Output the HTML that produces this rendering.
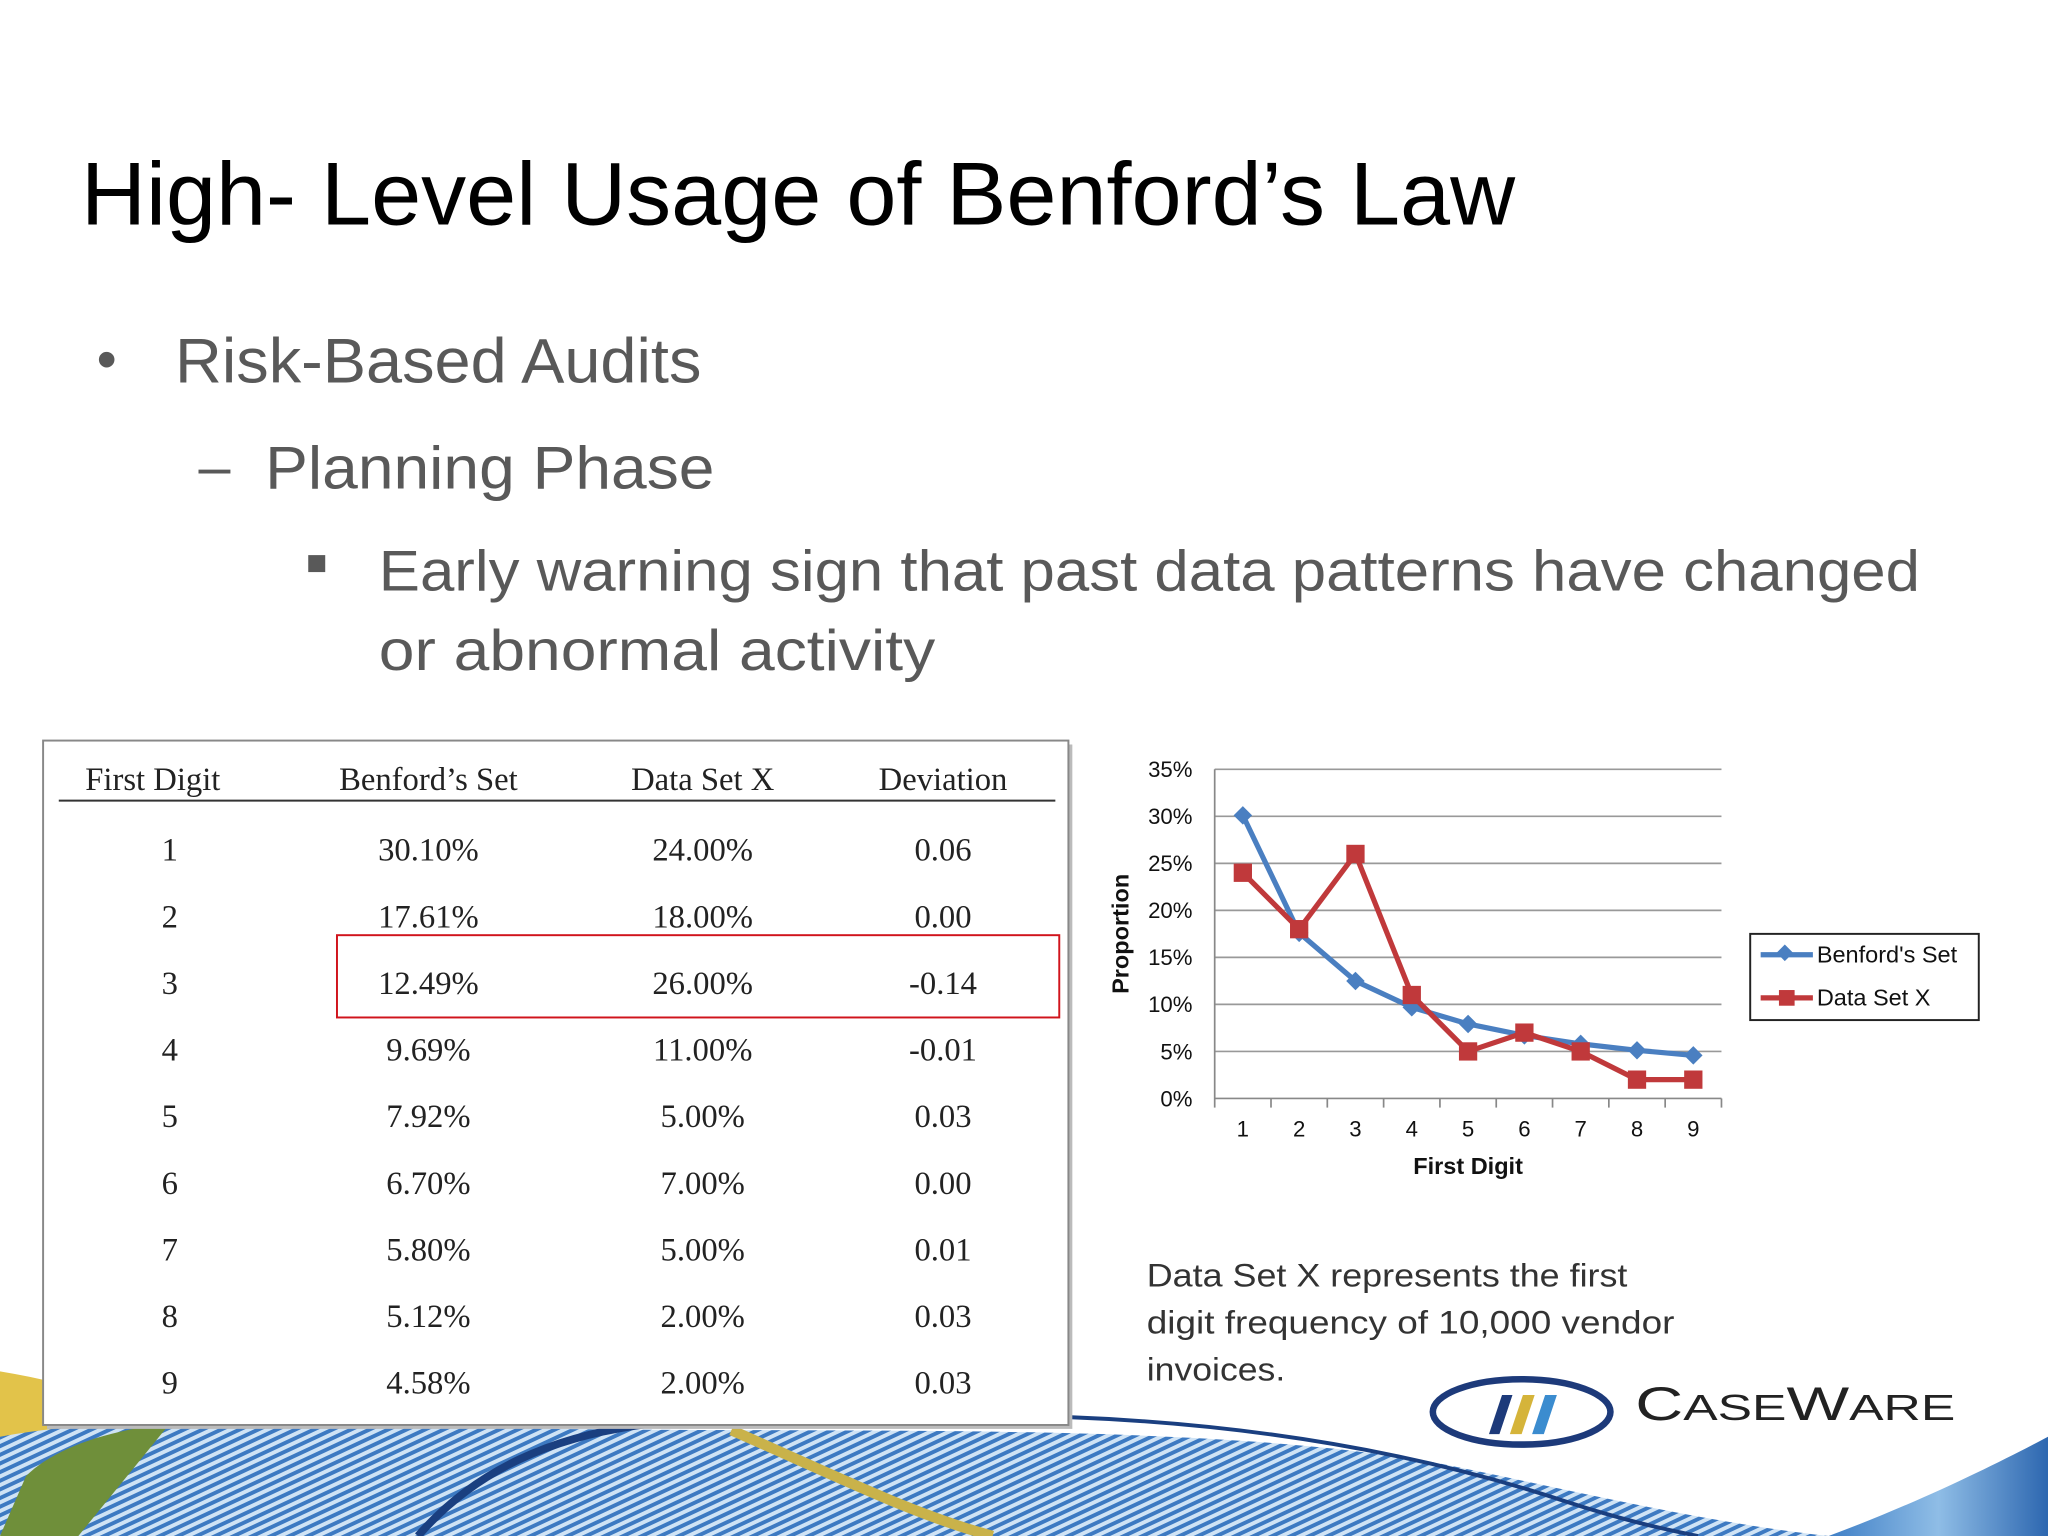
<!DOCTYPE html>
<html><head><meta charset="utf-8"><style>
html,body{margin:0;padding:0;background:#fff;width:2048px;height:1536px;overflow:hidden}
svg{display:block}
</style></head><body>
<svg width="2048" height="1536" viewBox="0 0 1568 1176" xmlns="http://www.w3.org/2000/svg">
<defs>
<linearGradient id="wave" x1="0" y1="0" x2="1" y2="0">
<stop offset="0" stop-color="#3f7fc6"/><stop offset="0.5" stop-color="#8fbde6"/><stop offset="1" stop-color="#2d67b0"/>
</linearGradient>
<pattern id="stripes" width="6" height="6" patternUnits="userSpaceOnUse" patternTransform="rotate(-25)">
<rect width="6" height="6" fill="#cfe3f5"/><rect width="6" height="3" fill="#3d7ac2"/>
</pattern>
</defs>
<rect width="1568" height="1176" fill="#fff"/>
<g>
<path d="M0,1050 C60,1060 120,1080 180,1090 L0,1176 Z" fill="#e2c34a"/>
<path d="M0,1100 C80,1085 200,1085 330,1092 C600,1100 900,1085 1100,1120 C1200,1140 1300,1165 1400,1176 L0,1176 Z" fill="url(#stripes)"/>
<path d="M0,1176 L20,1130 C40,1110 80,1095 130,1090 L60,1176 Z" fill="#6f8f3a"/>
<path d="M320,1176 C360,1130 420,1095 520,1088" stroke="#1a3f80" stroke-width="6" fill="none"/>
<path d="M560,1095 C640,1130 700,1160 760,1176" stroke="#c9b24a" stroke-width="8" fill="none"/>
<path d="M818,1085 C950,1090 1080,1110 1200,1150 C1240,1163 1270,1170 1300,1176" stroke="#1a3f80" stroke-width="3" fill="none"/>
<path d="M1400,1176 C1470,1150 1530,1120 1568,1100 L1568,1176 Z" fill="url(#wave)"/>
</g>
<text x="62" y="172" font-family="Liberation Sans, sans-serif" font-size="68" fill="#000" textLength="1098" lengthAdjust="spacingAndGlyphs">High- Level Usage of Benford’s Law</text>
<g font-family="Liberation Sans, sans-serif" fill="#595959">
<text x="74" y="290" font-size="44">•</text>
<text x="134" y="293" font-size="48" textLength="403" lengthAdjust="spacingAndGlyphs">Risk-Based Audits</text>
<text x="152" y="372" font-size="44">–</text>
<text x="203" y="374" font-size="46" textLength="344" lengthAdjust="spacingAndGlyphs">Planning Phase</text>
<rect x="236" y="425" width="13" height="13" fill="#595959"/>
<text x="290" y="452" font-size="44" textLength="1180" lengthAdjust="spacingAndGlyphs">Early warning sign that past data patterns have changed</text>
<text x="290" y="513" font-size="44" textLength="426" lengthAdjust="spacingAndGlyphs">or abnormal activity</text>
</g>
<g font-family="Liberation Serif, serif" font-size="25" fill="#222" text-anchor="middle">
<rect x="36" y="570" width="785" height="524" fill="#bbb"/>
<rect x="33" y="567" width="785" height="524" fill="#fff" stroke="#888" stroke-width="1.5"/>
<text x="117" y="605">First Digit</text>
<text x="328" y="605">Benford’s Set</text>
<text x="538" y="605">Data Set X</text>
<text x="722" y="605">Deviation</text>
<line x1="45" y1="613" x2="808" y2="613" stroke="#333" stroke-width="1.5"/>
<g id="rows"></g>
<rect x="258" y="716" width="553" height="63" fill="none" stroke="#d0141c" stroke-width="1.5"/>
</g>
<g id="chart" font-family="Liberation Sans, sans-serif"></g>
<g font-family="Liberation Sans, sans-serif" font-size="18" fill="#111">
<rect x="1340" y="715" width="175" height="66" fill="#fff" stroke="#222" stroke-width="1.5"/>
<line x1="1348" y1="731" x2="1388" y2="731" stroke="#4a7fc1" stroke-width="4"/>
<rect x="1362" y="725" width="9" height="9" fill="#4a7fc1" transform="rotate(45 1366.5 729.5)"/>
<text x="1391" y="737">Benford's Set</text>
<line x1="1348" y1="764" x2="1388" y2="764" stroke="#c0393b" stroke-width="4"/>
<rect x="1362" y="758" width="12" height="12" fill="#c0393b"/>
<text x="1391" y="770">Data  Set X</text>
</g>
<g font-family="Liberation Sans, sans-serif" font-size="25" fill="#333">
<text x="878" y="985" textLength="368" lengthAdjust="spacingAndGlyphs">Data Set X represents the first</text>
<text x="878" y="1021" textLength="404" lengthAdjust="spacingAndGlyphs">digit frequency of 10,000 vendor</text>
<text x="878" y="1057" textLength="106" lengthAdjust="spacingAndGlyphs">invoices.</text>
</g>
<g>
<ellipse cx="1165" cy="1081" rx="68" ry="25" fill="none" stroke="#1d3a7a" stroke-width="5"/>
<path d="M1140,1098 L1150,1068 L1158,1068 L1148,1098 Z" fill="#1d3a7a"/>
<path d="M1156,1098 L1166,1068 L1175,1068 L1165,1098 Z" fill="#d5b43a"/>
<path d="M1173,1098 L1183,1068 L1192,1068 L1182,1098 Z" fill="#3b8ccf"/>
<text x="1252" y="1087" font-family="Liberation Sans, sans-serif" font-size="36" fill="#222" textLength="245" lengthAdjust="spacingAndGlyphs">C<tspan font-size="28">ASE</tspan>W<tspan font-size="28">ARE</tspan></text>
</g>
</svg>
<script>
const digits=["1","2","3","4","5","6","7","8","9"];
const benfordPct=["30.10%","17.61%","12.49%","9.69%","7.92%","6.70%","5.80%","5.12%","4.58%"];
const dataXPct=["24.00%","18.00%","26.00%","11.00%","5.00%","7.00%","5.00%","2.00%","2.00%"];
const deviation=["0.06","0.00","-0.14","-0.01","0.03","0.00","0.01","0.03","0.03"];
const benford=[30.10,17.61,12.49,9.69,7.92,6.70,5.80,5.12,4.58];
const dataX=[24,18,26,11,5,7,5,2,2];
const yTicks=[0,5,10,15,20,25,30,35];
const NS="http://www.w3.org/2000/svg";
function mk(t,a,p){const e=document.createElementNS(NS,t);for(const k in a)e.setAttribute(k,a[k]);p.appendChild(e);return e;}
const rows=document.getElementById('rows');
digits.forEach((d,i)=>{
  const y=659+i*51;
  [[d,130],[benfordPct[i],328],[dataXPct[i],538],[deviation[i],722]].forEach(([t,x])=>{
    const e=mk('text',{x:x,y:y},rows);e.textContent=t;
    
    
  });
});
const ch=document.getElementById('chart');
const X0=930,X1=1318,Y0=841,Y35=589;
const ys=v=>Y0-(v/35)*(Y0-Y35);
const step=(X1-X0)/digits.length;
const xs=i=>X0+step*(i+0.5);
yTicks.forEach(v=>{
  if(v>0){const g=mk('line',{x1:X0,x2:X1,y1:ys(v),y2:ys(v),stroke:'#999','stroke-width':1.3},ch);
  
  }
  const t=mk('text',{x:913,y:ys(v)+6,'text-anchor':'end','font-size':17,fill:'#111'},ch);t.textContent=v+'%';
  
  
});
mk('line',{x1:X0,x2:X0,y1:Y35,y2:Y0,stroke:'#888','stroke-width':1.3},ch);
mk('line',{x1:X0,x2:X1,y1:Y0,y2:Y0,stroke:'#888','stroke-width':1.3},ch);
for(let k=0;k<=digits.length;k++)mk('line',{x1:X0+step*k,x2:X0+step*k,y1:Y0,y2:Y0+7,stroke:'#888','stroke-width':1.3},ch);
digits.forEach((d,i)=>{const t=mk('text',{x:xs(i),y:870,'text-anchor':'middle','font-size':17,fill:'#111'},ch);t.textContent=d;
  
  });
const xt=mk('text',{x:1124,y:899,'text-anchor':'middle','font-size':18,'font-weight':'bold',fill:'#111'},ch);xt.textContent='First Digit';


const yt=mk('text',{x:0,y:0,'text-anchor':'middle','font-size':18,'font-weight':'bold',fill:'#111',transform:'translate(864,715) rotate(-90)'},ch);yt.textContent='Proportion';


const bl=mk('polyline',{points:benford.map((v,i)=>xs(i)+','+ys(v)).join(' '),fill:'none',stroke:'#4a7fc1','stroke-width':4,'stroke-linejoin':'round'},ch);


benford.forEach((v,i)=>{const m=mk('rect',{x:xs(i)-5,y:ys(v)-5,width:10,height:10,fill:'#4a7fc1',transform:`rotate(45 ${xs(i)} ${ys(v)})`},ch);
  
  });
const dl=mk('polyline',{points:dataX.map((v,i)=>xs(i)+','+ys(v)).join(' '),fill:'none',stroke:'#c0393b','stroke-width':4,'stroke-linejoin':'round'},ch);


dataX.forEach((v,i)=>{const m=mk('rect',{x:xs(i)-7,y:ys(v)-7,width:14,height:14,fill:'#c0393b'},ch);
  
  });
</script>
</body></html>
